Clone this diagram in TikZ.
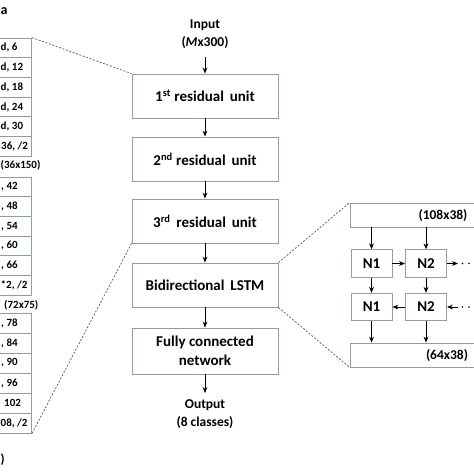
\documentclass[tikz,border=0pt]{standalone}
\usepackage{fontspec}
\setmainfont{Carlito}
\usetikzlibrary{arrows.meta}
\definecolor{boxc}{RGB}{135,158,180}
\definecolor{dashc}{RGB}{90,90,90}
\begin{document}
\begin{tikzpicture}[x=1pt,y=-1pt,
  box/.style={draw=boxc, line width=0.9pt, fill=white, minimum width=146pt, minimum height=44pt, inner sep=0pt, font=\bfseries\fontsize{15}{17}\selectfont, align=center},
  lbox/.style={draw=boxc, line width=0.8pt, fill=white, minimum width=80pt, minimum height=19.7pt, inner sep=0pt, anchor=east},
  ltxt/.style={anchor=west, inner sep=0pt, font=\bfseries\fontsize{11}{12}\selectfont},
  nbox/.style={draw=boxc, line width=0.8pt, fill=white, minimum width=41pt, minimum height=27.5pt, inner sep=0pt, font=\bfseries\fontsize{15}{16}\selectfont},
  wbox/.style={draw=boxc, line width=0.8pt, fill=white, minimum width=140pt, minimum height=24pt, inner sep=0pt},
  ctxt/.style={align=center, inner sep=0pt, font=\bfseries\fontsize{13.5}{18}\selectfont},
  rtxt/.style={inner sep=0pt, font=\bfseries\fontsize{13.5}{15}\selectfont},
  arr/.style={-{Stealth[length=6pt,width=4.8pt]}, line width=0.9pt, black},
  dl/.style={dashc, line width=0.7pt, dash pattern=on 2pt off 1.6pt},
  dots/.style={black, line width=1.8pt, line cap=round, dash pattern=on 0pt off 6.5pt}
]
\useasboundingbox (0,0) rectangle (474,474);
\clip (0,0) rectangle (474,474);
\fill[white] (0,0) rectangle (474,474);

% ---------- left column (cropped) ----------
\node[ltxt, font=\bfseries\fontsize{14}{15}\selectfont] (topa) at (0.5,11) {a};
% group 1
\foreach \yc/\xs/\t [count=\i] in {47.85/0.5/{d, 6},67.55/0.5/{d, 12},87.25/0.5/{d, 18},106.95/0.5/{d, 24},126.65/0.5/{d, 30},146.35/1/{36, /2}}{
  \node[lbox] (ga\i) at (32,\yc) {};
  \node[ltxt] (gat\i) at (\xs,\yc) {\t};
}
\node[ltxt] (s36) at (0.5,165) {(36x150)};
% group 2
\foreach \yc/\xs/\t [count=\i] in {186.85/1/{, 42},206.55/1/{, 48},226.25/1/{, 54},245.95/1/{, 60},265.65/1/{, 66},285.35/0.5/{*2, /2}}{
  \node[lbox] (gb\i) at (32,\yc) {};
  \node[ltxt] (gbt\i) at (\xs,\yc) {\t};
}
\node[ltxt] (s72) at (4,305) {(72x75)};
% group 3
\foreach \yc/\xs/\t [count=\i] in {323/1/{, 78},343/1/{, 84},363/1/{, 90},383/1/{, 96},403/4/{102},423/0.5/{08, /2}}{
  \node[lbox, minimum height=20pt] (gc\i) at (32,\yc) {};
  \node[ltxt] (gct\i) at (\xs,\yc) {\t};
}
\node[ltxt, font=\bfseries\fontsize{13}{14}\selectfont] (bpar) at (0.5,460) {)};

% ---------- centre column ----------
\node[ctxt] (inp) at (205,34) {Input\\(\textit{M}x300)};
\node[box] (b1) at (205,96) {1\textsuperscript{st} residual\, unit};
\node[box] (b2) at (205,159) {2\textsuperscript{nd} residual\, unit};
\node[box] (b3) at (205,221) {3\textsuperscript{rd}\, residual\, unit};
\node[box] (b4) at (205,285) {Bidirectional\, LSTM};
\node[box, minimum height=46pt, font=\bfseries\fontsize{15}{18.5}\selectfont] (b5) at (205,351) {Fully connected\\network};
\node[ctxt] (outp) at (205,414) {Output\\(8 classes)};

\coordinate (ia) at (205,57);
\coordinate (oa) at (205,393);
\draw[arr] (ia) -- (b1.north);
\draw[arr] (b1) -- (b2);
\draw[arr] (b2) -- (b3);
\draw[arr] (b3) -- (b4);
\draw[arr] (b4) -- (b5);
\draw[arr] (b5.south) -- (oa);

% ---------- dashed zoom lines ----------
\draw[dl] (ga1.north east) -- (b1.north west);
\draw[dl] (gc6.south east) -- (b3.south west);

% ---------- right panel ----------
\node[wbox] (top) at (420,215) {};
\node[rtxt] (t108) at (443,216) {(108x38)};
\node[wbox] (bot) at (420,355) {};
\node[rtxt] (t64) at (447,355.5) {(64x38)};
\node[nbox] (n1t) at (371.5,263.5) {N1};
\node[nbox] (n2t) at (426,263.5) {N2};
\node[nbox] (n1b) at (371.5,307) {N1};
\node[nbox] (n2b) at (426,307) {N2};

\draw[dl] (b4.north east) -- (top.north west);
\draw[dl] (b4.south east) -- (bot.south west);

\draw[arr] (n1t.north |- top.south) -- (n1t.north);
\draw[arr] (n2t.north |- top.south) -- (n2t.north);
\draw[arr] (n1t) -- (n2t);
\draw[arr] (n1t) -- (n1b);
\draw[arr] (n2t) -- (n2b);
\draw[arr] (n2b) -- (n1b);
\draw[arr] (n1b.south) -- (n1b.south |- bot.north);
\draw[arr] (n2b.south) -- (n2b.south |- bot.north);

\coordinate (ra) at (458,263.5);
\coordinate (rd) at (462.5,263.5);
\coordinate (rb) at (458,307);
\coordinate (re) at (462.5,307);
\draw[arr] (n2t.east) -- (ra);
\draw[arr] (rb) -- (n2b.east);
\draw[dots] (rd) -- ++(14,0);
\draw[dots] (re) -- ++(14,0);
\end{tikzpicture}
\end{document}
